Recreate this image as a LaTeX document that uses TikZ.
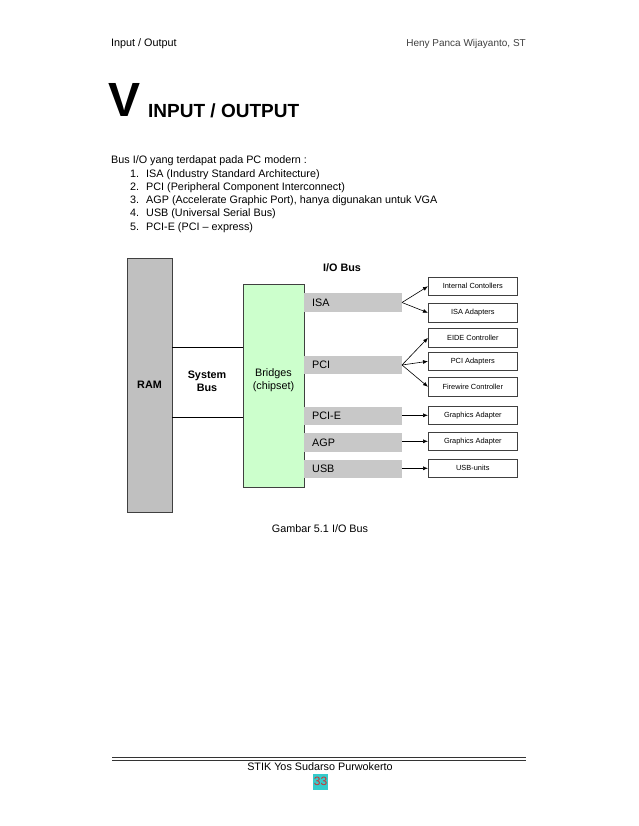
\documentclass[tikz,border=0pt]{standalone}
\usepackage{fontspec}
\setmainfont{Liberation Sans}
\usetikzlibrary{arrows.meta}
\definecolor{ramfill}{RGB}{192,192,192}
\definecolor{barfill}{RGB}{200,200,200}
\definecolor{bridgefill}{RGB}{204,255,204}
\definecolor{pagecyan}{RGB}{51,204,204}
\definecolor{pagered}{RGB}{208,48,48}
\begin{document}
\begin{tikzpicture}[x=1pt,y=-1pt,
  body/.style={font=\fontsize{10.8}{13}\selectfont, inner sep=0pt},
  bodyb/.style={font=\fontsize{10.8}{13}\selectfont\bfseries, inner sep=0pt, align=center},
  rambox/.style={draw=black!75, fill=ramfill, line width=0.8pt},
  bridgebox/.style={draw=black!75, fill=bridgefill, line width=0.8pt},
  busbar/.style={fill=barfill, inner sep=0pt},
  devbox/.style={draw=black!75, line width=0.6pt, inner sep=0pt, font=\fontsize{7.4}{8}\selectfont},
  arr/.style={-{Latex[length=5pt,width=4pt]}, line width=0.6pt}]
\useasboundingbox (0,0) rectangle (638,826);
\fill[white] (0,0) rectangle (638,826);

% header
\node[body, anchor=base west] (hl) at (111,47) {Input / Output};
\node[body, anchor=base east, text=black!75, font=\fontsize{10}{12}\selectfont] (hr) at (526,47) {Heny Panca Wijayanto, ST};

% title
\node[inner sep=0pt, anchor=base west, font=\fontsize{48}{50}\selectfont\bfseries] (bigv) at (108,117) {V};
\node[inner sep=0pt, anchor=base west, font=\fontsize{19}{22}\selectfont\bfseries] (title) at (148,118) {INPUT / OUTPUT};

% intro text
\node[body, anchor=base west] (intro) at (111,164) {Bus I/O yang terdapat pada PC modern :};
\foreach \n/\t [count=\i] in {1/{ISA (Industry Standard Architecture)},
  2/{PCI (Peripheral Component Interconnect)},
  3/{AGP (Accelerate Graphic Port), hanya digunakan untuk VGA},
  4/{USB (Universal Serial Bus)},
  5/{PCI-E (PCI -- express)}} {
  \node[body, anchor=base west] (num\i) at (130,165+13*\i) {\n.};
  \node[body, anchor=base west] (item\i) at (146,165+13*\i) {\t};
}

% diagram
\path[rambox] (127,258) rectangle (172,512);
\node[bodyb] (ram) at (149.5,385) {RAM};
\coordinate (ramE) at (172,385);
\path[bridgebox] (243,284) rectangle (304,487);
\coordinate (brW) at (243,385);
\node[body, align=center] (bridge) at (273.5,380) {Bridges\\(chipset)};
\node[bodyb] (sysbus) at (207,381) {System\\Bus};
\draw[line width=0.6pt] (ramE |- 0,347) -- (brW |- 0,347);
\draw[line width=0.6pt] (ramE |- 0,417) -- (brW |- 0,417);

\node[bodyb] (iobus) at (342,268) {I/O Bus};

% bus bars
\foreach \nm/\lab/\ya/\yb in {isa/ISA/293/312, pci/PCI/356/374, pcie/PCI-E/407/425, agp/AGP/433/452, usb/USB/460/478} {
  \path[busbar] (304,\ya) rectangle (402,\yb);
  \coordinate (\nm) at (402,{(\ya+\yb)/2});
  \node[body, anchor=west] (\nm lab) at (312,{(\ya+\yb)/2}) {\lab};
}

% device boxes
\foreach \nm/\lab/\ya/\yb in {ic/Internal Contollers/277/295, isaad/ISA Adapters/303/322, eide/EIDE Controller/328/347, pciad/PCI Adapters/352/370, fw/Firewire Controller/377/396, ga1/Graphics Adapter/406/424, ga2/Graphics Adapter/432/450, usbu/USB-units/459/477} {
  \node[devbox, minimum width=89pt, minimum height={\yb-\ya}, anchor=north west] (\nm) at (428,\ya) {\lab};
}

\draw[arr] (isa) -- (ic.west);
\draw[arr] (isa) -- (isaad.west);
\draw[arr] (pci) -- (eide.west);
\draw[arr] (pci) -- (pciad.west);
\draw[arr] (pci) -- (fw.west);
\draw[arr] (ga1.west -| pcie) -- (ga1.west);
\draw[arr] (ga2.west -| agp) -- (ga2.west);
\draw[arr] (usbu.west -| usb) -- (usbu.west);

\node[body] (caption) at (320,529) {Gambar 5.1 I/O Bus};

% footer
\draw[line width=1pt, black!80] (112,757.8) -- (526,757.8);
\draw[line width=1pt, black!80] (112,760.6) -- (526,760.6);
\node[body] (foot) at (320,767) {STIK Yos Sudarso Purwokerto};
\node[fill=pagecyan, text=pagered, inner sep=1pt, minimum width=15pt, minimum height=16pt, font=\fontsize{12}{14}\selectfont] (page) at (320.5,781.5) {33};
\end{tikzpicture}
\end{document}
